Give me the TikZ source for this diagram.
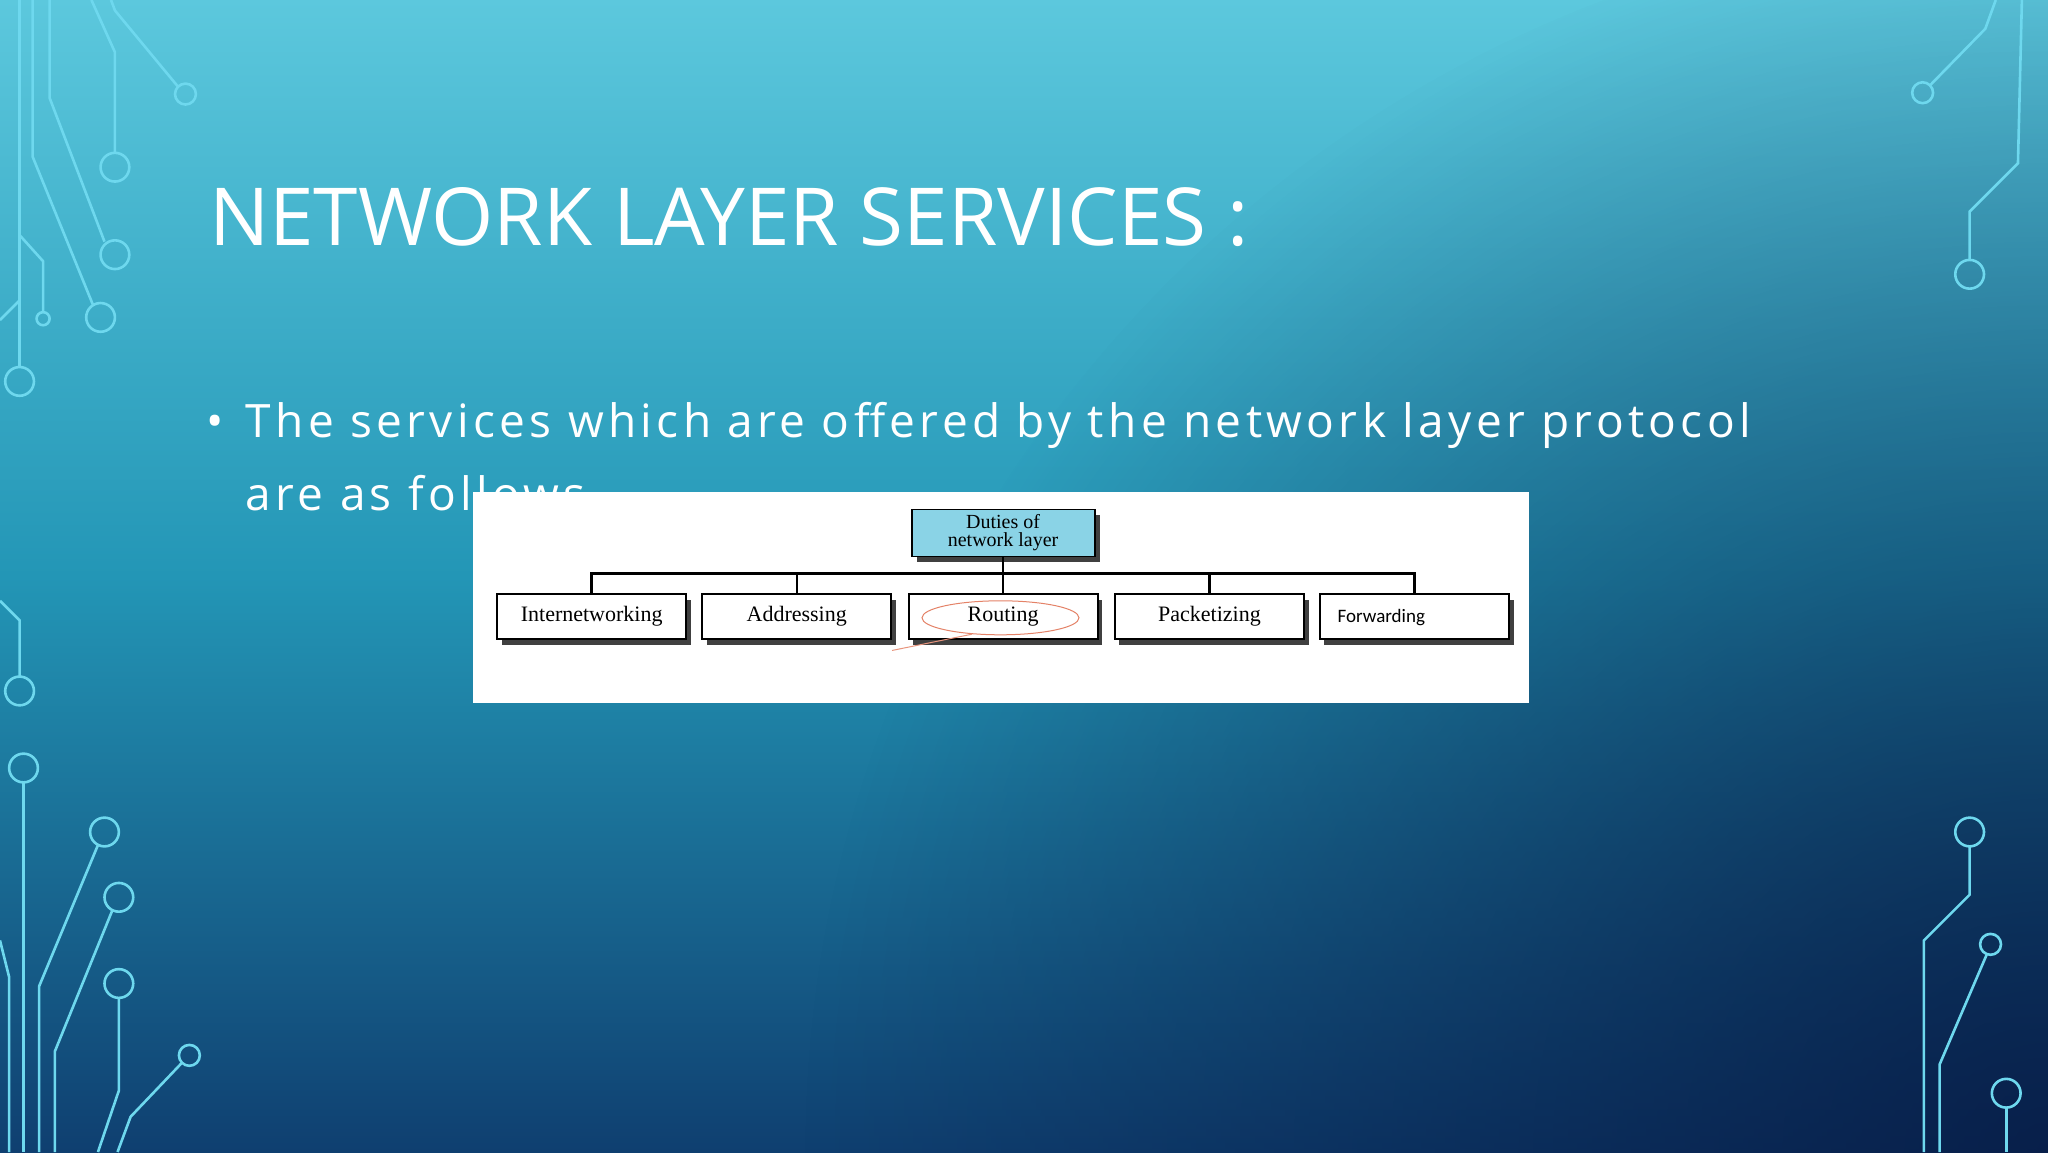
\documentclass[tikz,border=0pt]{standalone}
\usepackage{fontspec}
\setmainfont{Liberation Serif}
\newfontfamily\osans{Open Sans}
\newfontfamily\osanssp[LetterSpace=9.5]{Open Sans}
\newfontfamily\carl{Carlito}
\usetikzlibrary{fadings,shapes.geometric}
\definecolor{bgtop}{HTML}{5CC8DD}
\definecolor{bgmid}{HTML}{2396B6}
\definecolor{bgbot}{HTML}{0F3F70}
\definecolor{navy}{HTML}{071A44}
\definecolor{circ}{HTML}{6ED8EE}
\definecolor{topfill}{HTML}{8AD3E6}
\tikzfading[name=brf,inner color=transparent!0,outer color=transparent!100]
\begin{document}
\begin{tikzpicture}[x=1.30612pt,y=-1.30612pt,
  cl/.style={circ,line width=2.6pt},
  dutybox/.style={draw=black,fill=white,line width=1.8pt,minimum width=189pt,minimum height=45.7pt,inner sep=0pt,font=\fontsize{22}{23}\selectfont},
  tree/.style={black,line width=2.4pt}]
\useasboundingbox (0,0) rectangle (1568,882);
\shade[top color=bgtop,bottom color=bgbot,middle color=bgmid] (0,0) rectangle (1568,882);
\begin{scope}
\clip (0,0) rectangle (1568,882);
\fill[navy,path fading=brf,opacity=0.85] (1568,882) circle (950);
\end{scope}
% circuits left top
\draw[cl] (85,0) -- (88,8) -- (136,66); \draw[cl] (142,72) circle (8);
\draw[cl] (70,0) -- (88,40) -- (88,117); \draw[cl] (88,128) circle (11);
\draw[cl] (38,0) -- (38,75) -- (80,185); \draw[cl] (88,195) circle (11);
\draw[cl] (25,0) -- (25,120) -- (71,233); \draw[cl] (77,243) circle (11);
\draw[cl] (15,0) -- (15,281); \draw[cl] (15,292) circle (11);
\draw[cl] (0,245) -- (15,230); \draw[cl] (15,180) -- (33,200) -- (33,239); \draw[cl] (33,244) circle (5);
% left middle
\draw[cl] (0,460) -- (15,475) -- (15,518); \draw[cl] (15,529) circle (11);
% left bottom
\draw[cl] (18,588) circle (11); \draw[cl] (18,599) -- (18,882);
\draw[cl] (80,637) circle (11); \draw[cl] (75,647) -- (30,755) -- (30,882);
\draw[cl] (91,687) circle (11); \draw[cl] (86,697) -- (42,805) -- (42,882);
\draw[cl] (91,753) circle (11); \draw[cl] (91,764) -- (91,835) -- (75,882);
\draw[cl] (145,808) circle (8); \draw[cl] (139,814) -- (100,855) -- (90,882);
\draw[cl] (0,720) -- (7,748) -- (7,882);
% right top
\draw[cl] (1528,0) -- (1520,22) -- (1478,65); \draw[cl] (1472,71) circle (8);
\draw[cl] (1548,0) -- (1545,125) -- (1508,162) -- (1508,199); \draw[cl] (1508,210) circle (11);
% right bottom
\draw[cl] (1508,637) circle (11); \draw[cl] (1508,648) -- (1508,685) -- (1473,720) -- (1473,882);
\draw[cl] (1524,723) circle (8); \draw[cl] (1521,731) -- (1485,815) -- (1485,882);
\draw[cl] (1536,837) circle (11); \draw[cl] (1536,848) -- (1536,882);
% title
\node[anchor=base west,inner sep=0pt,text=white,font=\osans\fontsize{80}{84}\selectfont] (title) at (160,188) {NETWORK LAYER SERVICES :};
\node[anchor=base west,inner sep=0pt,text=white,font=\osans\fontsize{46}{50}\selectfont] (bullet) at (158,335) {•};
\node[anchor=base west,inner sep=0pt,text=white,font=\osanssp\fontsize{46}{50}\selectfont] (body) at (188,335) {The services which are offered by the network layer protocol};
\node[anchor=base west,inner sep=0pt,text=white,font=\osanssp\fontsize{46}{50}\selectfont] (body2) at (188,391) {are as follows};
% diagram panel
\fill[white] (362,377) rectangle (1171,538);
\coordinate (bar) at (768,439);
\fill[black!75] (702,394) rectangle (842,430);
\node[draw=black,fill=topfill,line width=1.8pt,minimum width=183pt,minimum height=47pt,inner sep=0pt,align=center,font=\fontsize{20}{21}\selectfont] (top) at (768,408) {Duties of\\[-3pt]network layer};
\foreach \n/\x/\t in {a/453/Internetworking,b/610/Addressing,c/768/,d/926/Packetizing,e/1083/}{
  \fill[black!75] (\x-69,459) rectangle (\x+76,494);
  \node[dutybox] (\n) at (\x,472) {\t};
}
\node[font=\carl\fontsize{19}{20}\selectfont,anchor=west,inner sep=0pt] (fw) at (1024,473) {Forwarding};
\draw[tree] (top.south) -- (bar);
\draw[tree] (a.north) -- (a.north |- bar) -- (e.north |- bar) -- (e.north);
\draw[tree] (b.north) -- (b.north |- bar);
\draw[tree] (c.north) -- (bar);
\draw[tree] (d.north) -- (d.north |- bar);
\node[draw=red!40!brown!70,line width=1pt,ellipse,minimum width=157pt,minimum height=34pt,inner sep=0pt] (ell) at (766,473) {};
\coordinate (tail) at (683,498);
\draw[red!40!brown!60,line width=1pt] (ell.-150) -- (tail);
\node[font=\fontsize{22}{23}\selectfont] (rt) at (768,472) {Routing};
\end{tikzpicture}
\end{document}
